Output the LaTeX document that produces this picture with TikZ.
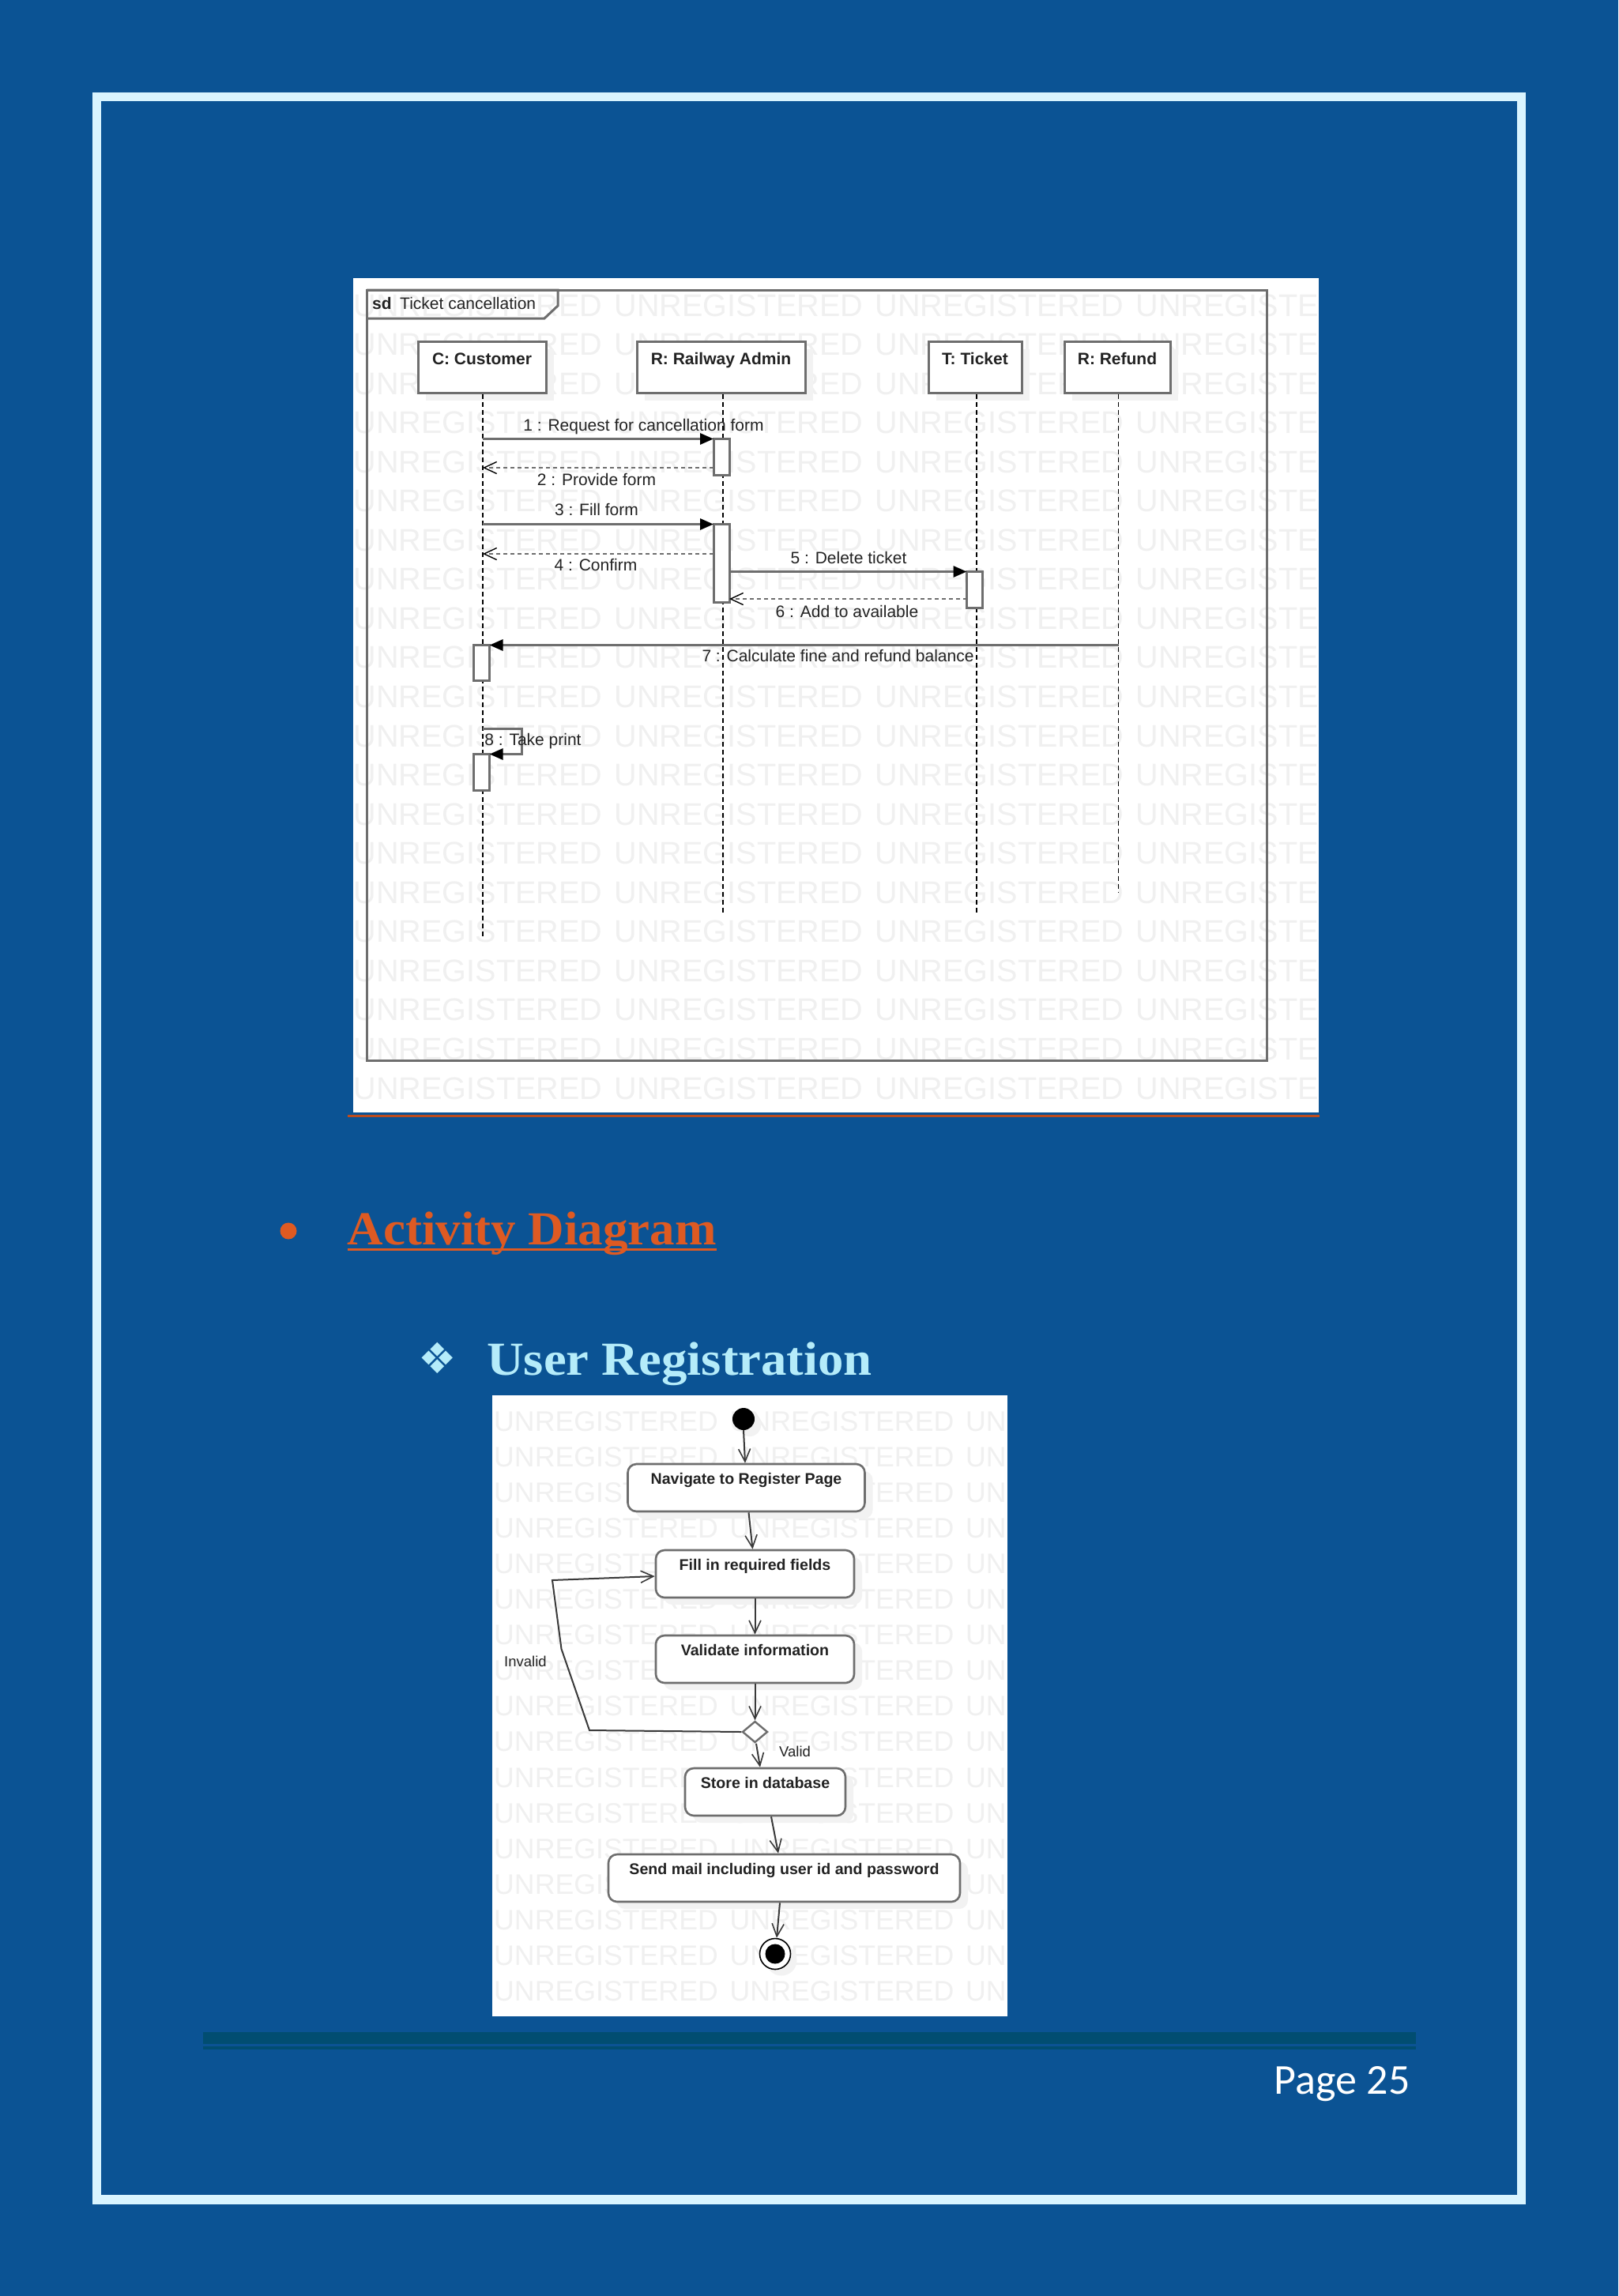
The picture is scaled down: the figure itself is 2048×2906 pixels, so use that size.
\documentclass[tikz,border=0pt]{standalone}
\usepackage{fontspec}
\usetikzlibrary{arrows.meta,shapes.geometric,shadows}
\setmainfont{Liberation Sans}
\newfontfamily\headA[FakeStretch=1.05]{Liberation Serif}
\newfontfamily\headB[FakeStretch=1.08]{Liberation Serif}
\newfontfamily\pagefont{Carlito}
\newfontfamily\symfont{DejaVu Sans}
\definecolor{pagebg}{HTML}{0B5394}
\definecolor{framec}{HTML}{D9F4FF}
\definecolor{orangec}{HTML}{DE5A22}
\definecolor{cyanc}{HTML}{B5ECFA}
\definecolor{footc}{HTML}{014D71}
\definecolor{wmc}{HTML}{F0F0F0}
\definecolor{shadowc}{HTML}{F2F2F2}
\definecolor{seqline}{HTML}{6E6E6E}
\definecolor{actline}{HTML}{3A3A3A}
\definecolor{textc}{HTML}{222222}
\tikzset{
  seqfont/.style={font=\fontsize{21}{25}\selectfont,text=textc},
  seqbold/.style={font=\fontsize{21}{25}\selectfont\bfseries,text=textc},
  lbl/.style={seqfont,inner sep=0pt,anchor=base},
  lblw/.style={seqfont,inner sep=0pt,anchor=base west},
  lifebox/.style={draw=seqline,line width=3pt,fill=white,inner sep=0pt,anchor=base,seqbold,
    text height=29pt,text depth=36pt,
    general shadow={fill=shadowc,shadow xshift=10pt,shadow yshift=-10pt}},
  actbar/.style={draw=seqline,line width=3pt,fill=white,inner sep=0pt,outer sep=0pt,minimum width=20pt,anchor=north west},
  lifeline/.style={draw=black,line width=1.6pt,dash pattern=on 6pt off 4pt},
  msg/.style={draw=seqline,line width=3pt,-{Triangle[length=17pt,width=14pt,black]}},
  reply/.style={draw=seqline,line width=2.6pt,dash pattern=on 5pt off 4pt,
    -{Straight Barb[length=16pt,width=15pt,line width=1.4pt,black]}},
  wmone/.style={font=\fontsize{39.6}{44}\selectfont,text=wmc,inner sep=0pt,anchor=base west},
  wmtwo/.style={font=\fontsize{35.7}{40}\selectfont,text=wmc,inner sep=0pt,anchor=base west},
  actbox/.style={draw=seqline,line width=2.6pt,fill=white,rounded corners=11pt,inner sep=0pt,anchor=base,
    font=\fontsize{19.6}{24}\selectfont\bfseries,text=textc,text height=25pt,text depth=35pt,
    general shadow={fill=shadowc,shadow xshift=10pt,shadow yshift=-9pt}},
  flow/.style={draw=actline,line width=2pt,-{Straight Barb[length=16pt,width=15pt,line width=1.6pt]}},
  guard/.style={font=\fontsize{18.5}{22}\selectfont,text=textc,inner sep=0pt,anchor=base west},
}
\begin{document}
\begin{tikzpicture}[x=1pt,y=-1pt]
\useasboundingbox (0,0) rectangle (2048,2906);
\fill[pagebg] (0,0) rectangle (2048,2906);
\draw[framec,line width=11.5pt] (122.5,122.5) rectangle (1925.5,2784);

% ---------- sequence diagram ----------
\fill[white] (447,352) rectangle (1669,1408);
\begin{scope}
\clip (447,352) rectangle (1669,1408);
\foreach \r in {0,...,20}{
  \foreach \c in {0,...,3}{
    \node[wmone,name=wa-\r-\c] at ({447.5+330*\c},{400+49.55*\r}) {UNREGISTERED};
  }
}
\end{scope}
\draw[orangec!85!black,line width=3pt] (440,1412.5) -- (1670,1412.5);

\draw[seqline,line width=3pt] (464,367) rectangle (1603,1342);
\draw[seqline,line width=3pt] (464,367) -- (706,367) -- (706,387) -- (689,403) -- (464,403);
\node[seqbold,inner sep=0pt,anchor=base west] (sdkw) at (471,391) {sd};
\node[lblw] (sdname) at (506,391) {Ticket cancellation};

\node[lifebox,minimum width=162pt] (cust) at (610,461) {C: Customer};
\node[lifebox,minimum width=213pt] (admin) at (912.5,461) {R: Railway Admin};
\node[lifebox,minimum width=118pt] (ticket) at (1234,461) {T: Ticket};
\node[lifebox,minimum width=134pt] (refund) at (1414,461) {R: Refund};

\coordinate (lc) at (611,1185);
\coordinate (la) at (915,1157);
\coordinate (lt) at (1236,1158);
\coordinate (lr) at (1415.5,1130);
\draw[lifeline] (lc |- cust.south) -- (lc);
\draw[lifeline] (la |- admin.south) -- (la);
\draw[lifeline] (lt |- ticket.south) -- (lt);
\draw[lifeline] (lr |- refund.south) -- (lr);

\node[actbar,minimum height=46pt] (a1) at (903,555.5) {};
\node[actbar,minimum height=99pt] (a2) at (903,663.5) {};
\node[actbar,minimum height=46pt] (a3) at (1223.5,723.5) {};
\node[actbar,minimum height=45pt] (a4) at (599.5,816.5) {};
\node[actbar,minimum height=46pt] (a5) at (599.5,954.5) {};

\coordinate (m2) at (0,592);
\coordinate (m4) at (0,701);
\coordinate (m6) at (0,758);
\coordinate (m8a) at (660,922);
\draw[msg] (lc |- a1.north west) -- (a1.north west);
\draw[reply] (a1.west |- m2) -- (lc |- m2);
\draw[msg] (lc |- a2.north west) -- (a2.north west);
\draw[reply] (a2.west |- m4) -- (lc |- m4);
\draw[msg] (a2.east |- a3.north west) -- (a3.north west);
\draw[reply] (a3.west |- m6) -- (a2.east |- m6);
\draw[msg] (lr |- a4.north east) -- (a4.north east);
\draw[msg] (lc |- m8a) -- (m8a) -- (m8a |- a5.north east) -- (a5.north east);

\node[lbl] (t1) at (814.5,545) {1 : Request for cancellation form};
\node[lbl] (t2) at (755,614) {2 : Provide form};
\node[lbl] (t3) at (755,652) {3 : Fill form};
\node[lbl] (t4) at (754,722) {4 : Confirm};
\node[lbl] (t5) at (1074,713) {5 : Delete ticket};
\node[lbl] (t6) at (1072,781) {6 : Add to available};
\node[lbl] (t7) at (1060.5,837) {7 : Calculate fine and refund balance};
\node[lbl] (t8) at (674.5,943) {8 : Take print};

% ---------- headings ----------
\node[circle,fill=orangec,minimum size=21pt,inner sep=0pt] (bul) at (365,1558) {};
\node[inner sep=0pt,anchor=base west,text=orangec,font=\headA\fontsize{60}{66}\selectfont\bfseries] (acth) at (439.5,1575) {Activity Diagram};
\draw[orangec,line width=3pt] ([yshift=-6pt]acth.base west) -- ([yshift=-6pt]acth.base east);
\node[inner sep=0pt,text=cyanc,font=\symfont\fontsize{54}{60}\selectfont] (dia) at (554,1719) {❖};
\node[inner sep=0pt,anchor=base west,text=cyanc,font=\headB\fontsize{60}{66}\selectfont\bfseries] (userh) at (616,1740) {User Registration};

% ---------- activity diagram ----------
\fill[white] (623,1766) rectangle (1275,2552);
\begin{scope}
\clip (623,1766) rectangle (1275,2552);
\foreach \r in {0,...,16}{
  \foreach \c in {0,...,2}{
    \node[wmtwo,name=wb-\r-\c] at ({625+298.5*\c},{1811+45.1*\r}) {UNREGISTERED};
  }
}
\end{scope}

\node[circle,fill=black,minimum size=28pt,inner sep=0pt,
  general shadow={fill=shadowc,shadow xshift=8pt,shadow yshift=-8pt}] (start) at (941,1796) {};
\node[actbox,minimum width=300pt] (nav) at (944.5,1878) {Navigate to Register Page};
\node[actbox,minimum width=251pt] (fill) at (955.5,1987) {Fill in required fields};
\node[actbox,minimum width=251pt] (valid) at (955.5,2095) {Validate information};
\node[diamond,draw=seqline,line width=2.4pt,fill=white,aspect=1.2,minimum width=32pt,minimum height=27pt,inner sep=0pt] (dec) at (955.5,2192) {};
\node[actbox,minimum width=203pt] (store) at (968.5,2263) {Store in database};
\node[actbox,minimum width=445pt] (send) at (992.5,2372) {Send mail including user id and password};
\node[circle,draw=black,line width=1.6pt,fill=white,minimum size=39pt,inner sep=0pt,
  general shadow={fill=shadowc,shadow xshift=8pt,shadow yshift=-8pt}] (finish) at (981,2473) {};
\node[circle,fill=black,minimum size=25pt,inner sep=0pt] (finishdot) at (finish) {};

\draw[flow] (start.south) -- ([xshift=-1.5pt]nav.north);
\draw[flow] ([xshift=3pt]nav.south) -- ([xshift=-3pt]fill.north);
\draw[flow] (fill.south) -- (valid.north);
\draw[flow] (valid.south) -- (dec.north);
\draw[flow] ([xshift=1.5pt]dec.south) -- ([xshift=-6.5pt]store.north);
\draw[flow] ([xshift=7.5pt]store.south) -- ([xshift=-7.5pt]send.north);
\draw[flow] ([xshift=-5.5pt]send.south) -- ([xshift=2pt]finish.north);
\coordinate (b1) at (746,2190);
\coordinate (b2) at (710.5,2087);
\coordinate (b3) at (699,2000);
\coordinate (b4) at (0,1995);
\draw[flow] (dec.west) -- (b1) -- (b2) -- (b3) -- (fill.west |- b4);
\node[guard] (ginv) at (638,2109) {Invalid};
\node[guard] (gval) at (986,2223) {Valid};

% ---------- footer ----------
\fill[footc] (257,2572) rectangle (1792,2587);
\fill[footc] (257,2590) rectangle (1792,2594);
\node[inner sep=0pt,anchor=base east,text=white,font=\pagefont\fontsize{54}{60}\selectfont] (pg) at (1784.5,2650) {Page 25};
\end{tikzpicture}
\end{document}
